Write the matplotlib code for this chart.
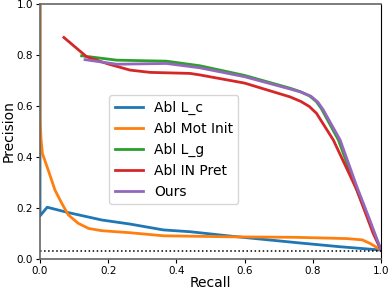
import numpy as np
import matplotlib
matplotlib.use("Agg")
import matplotlib.pyplot as plt

labels = ["Abl L_c", "Abl Mot Init", "Abl L_g", "Abl IN Pret", "Ours"]

lc_recall = [0.0, 0.0, 0.021, 0.083, 0.181, 0.264, 0.362, 0.44, 0.557, 0.753, 0.88, 1.0]
lc_prec = [1.0, 0.169, 0.203, 0.182, 0.153, 0.137, 0.114, 0.107, 0.09, 0.064, 0.048, 0.035]

mot_recall = [0.0, 0.0, 0.003, 0.007, 0.024, 0.044, 0.064, 0.083, 0.112, 0.142, 0.181,
              0.264, 0.362, 0.557, 0.75, 0.9, 0.945, 0.968, 1.0]
mot_prec = [1.0, 0.55, 0.47, 0.414, 0.349, 0.27, 0.218, 0.173, 0.14, 0.12, 0.111,
            0.103, 0.091, 0.087, 0.085, 0.08, 0.075, 0.061, 0.035]

lg_recall = [0.122, 0.225, 0.371, 0.469, 0.6, 0.733, 0.76, 0.79, 0.81, 0.825, 0.875, 0.925, 0.962, 1.0]
lg_prec = [0.797, 0.780, 0.776, 0.758, 0.72, 0.670, 0.658, 0.64, 0.618, 0.59, 0.467, 0.284, 0.16, 0.035]

in_recall = [0.070, 0.137, 0.2, 0.264, 0.323, 0.44, 0.469, 0.6, 0.733, 0.765, 0.79, 0.811, 0.86, 0.929, 0.977, 1.0]
in_prec = [0.869, 0.793, 0.765, 0.741, 0.732, 0.728, 0.722, 0.69, 0.636, 0.618, 0.598, 0.571, 0.467, 0.271, 0.10, 0.035]

ours_recall = [0.132, 0.225, 0.371, 0.469, 0.6, 0.733, 0.765, 0.795, 0.815, 0.831, 0.88, 0.929, 0.965, 1.0]
ours_prec = [0.782, 0.764, 0.767, 0.750, 0.715, 0.667, 0.655, 0.638, 0.615, 0.584, 0.467, 0.284, 0.16, 0.035]

baseline = 0.033

fig = plt.figure(figsize=(3.9, 2.91), dpi=100)
ax = fig.add_axes([0.1026, 0.110, 0.8744, 0.876])

ax.plot(lc_recall, lc_prec, lw=2, label=labels[0])
ax.plot(mot_recall, mot_prec, lw=2, label=labels[1])
ax.plot(lg_recall, lg_prec, lw=2, label=labels[2])
ax.plot(in_recall, in_prec, lw=2, label=labels[3])
ax.plot(ours_recall, ours_prec, lw=2, label=labels[4])
ax.plot([0, 1], [baseline, baseline], color="black", linestyle=":", lw=1.1)

ax.set_xlim(0, 1)
ax.set_ylim(0, 1)
ax.set_xticks([0, 0.2, 0.4, 0.6, 0.8, 1.0])
ax.set_yticks([0, 0.2, 0.4, 0.6, 0.8, 1.0])
ax.tick_params(labelsize=7.5, pad=2, length=3)
for s in ["left", "top", "bottom"]:
    ax.spines[s].set_color("#666666")
    ax.spines[s].set_linewidth(1.2)
ax.set_xlabel("Recall", fontsize=10, labelpad=0)
ax.set_ylabel("Precision", fontsize=10, labelpad=1)
ax.legend(loc="lower left", bbox_to_anchor=(0.183, 0.188), fontsize=10)

fig.savefig("out.png", dpi=100)
